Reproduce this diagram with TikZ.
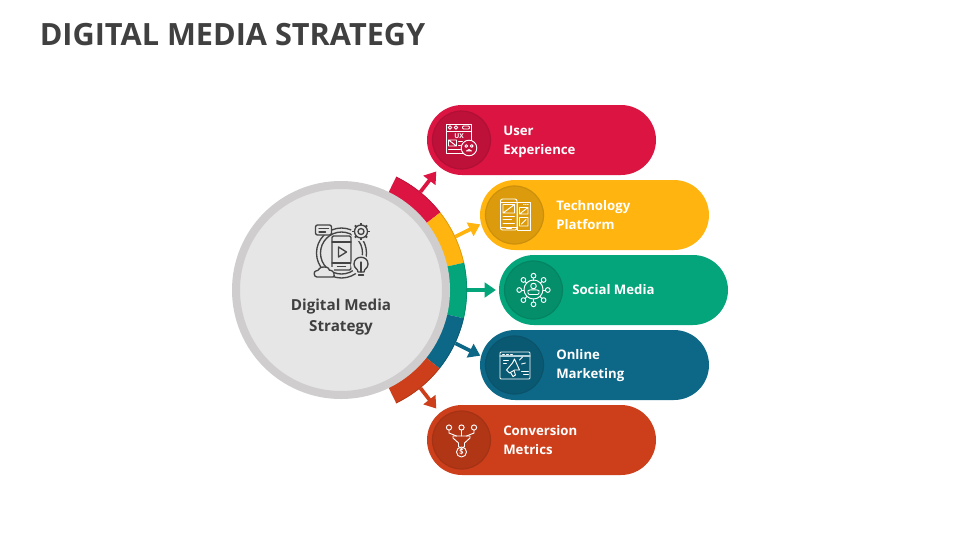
\documentclass[tikz,border=0pt]{standalone}
\usepackage{fontspec}
\setmainfont{Open Sans}
\usetikzlibrary{arrows.meta,shapes.misc}
\definecolor{cTitle}{HTML}{404040}
\definecolor{cRed}{HTML}{DC1442}
\definecolor{cYel}{HTML}{FFB40F}
\definecolor{cGrn}{HTML}{05A57B}
\definecolor{cBlu}{HTML}{0C6886}
\definecolor{cOrg}{HTML}{CD3F1A}
\definecolor{cHub}{HTML}{E6E6E6}
\definecolor{cRim}{HTML}{CFCDCD}
\definecolor{cIcon}{HTML}{444444}
\tikzset{
  pill/.style={rounded rectangle,minimum width=171.75pt,minimum height=52.5pt,inner sep=0pt,fill=#1},
  disc/.style={circle,minimum size=43.5pt,inner sep=0pt,fill=#1!86!black,draw=#1!80!black,line width=.9pt},
  lbl/.style={anchor=west,align=left,text=white,font=\fontsize{9.9}{14.2}\selectfont\bfseries,inner sep=0pt},
  link/.style={draw=#1,line width=2.8pt,-{Triangle[length=8.5pt,width=11pt]}},
  ico/.style={draw=white,line width=.7pt,line join=round,line cap=round},
  dico/.style={draw=cIcon,line width=1pt,line join=round,line cap=round}
}
\newcommand\ringpart[3]{%
  \fill[#3,shift={(341,290)}] (#1:75pt) arc[start angle=#1,end angle=#2,radius=75pt]
    -- (#2:94.5pt) arc[start angle=#2,end angle=#1,radius=94.5pt] -- cycle;
  \draw[#3!85!black,line width=.5pt,shift={(341,290)}] (#1:94.3pt) arc[start angle=#1,end angle=#2,radius=94.3pt];}
\begin{document}
\begin{tikzpicture}[x=.75pt,y=-.75pt]
\useasboundingbox (0,0) rectangle (960,540);
\fill[white] (0,0) rectangle (960,540);
\node[anchor=base west,inner sep=0pt,text=cTitle,font=\fontsize{23}{28}\selectfont\bfseries] (title) at (39.5,45.3) {DIGITAL MEDIA STRATEGY};

% pills
\node[pill=cRed] (pR) at (541.5,140) {};
\node[pill=cYel] (pY) at (594.5,215) {};
\node[pill=cGrn] (pG) at (613.5,290) {};
\node[pill=cBlu] (pB) at (594.5,365) {};
\node[pill=cOrg] (pO) at (541.5,440) {};
\node[disc=cRed] (iR) at (461.5,140) {};
\node[disc=cYel] (iY) at (514.5,215) {};
\node[disc=cGrn] (iG) at (533.5,290) {};
\node[disc=cBlu] (iB) at (514.5,365) {};
\node[disc=cOrg] (iO) at (461.5,440) {};
\node[lbl] (tR) at (503,141.5) {User\\Experience};
\node[lbl] (tY) at (556,215.5) {Technology\\Platform};
\node[lbl] (tG) at (572,289.5) {Social Media};
\node[lbl] (tB) at (556,366) {Online\\Marketing};
\node[lbl] (tO) at (503,440) {Conversion\\Metrics};

% connectors
\node[circle,minimum size=189pt,inner sep=0pt] (ring) at (341,290) {};
\draw[link=cRed,shorten >=8pt] (ring.51) -- (iR.231);
\draw[link=cYel,shorten >=4.5pt] (ring.25) -- (iY.193);
\draw[link=cGrn,shorten >=6pt] (ring.0) -- (iG.180);
\draw[link=cBlu,shorten >=4.5pt] (ring.-25) -- (iB.167);
\draw[link=cOrg,shorten >=8pt] (ring.-51) -- (iO.129);

% ring
\ringpart{64}{38}{cRed}
\ringpart{38}{12.5}{cYel}
\ringpart{12.5}{-13}{cGrn}
\ringpart{-13}{-38.5}{cBlu}
\ringpart{-38.5}{-64}{cOrg}
\node[circle,minimum size=157.5pt,inner sep=0pt,fill=cHub,draw=cRim,line width=6pt] (hub) at (341,290) {};
\node[align=center,text=cTitle,inner sep=0pt,font=\fontsize{11.4}{15.75}\selectfont\bfseries] (hubt) at (341,317) {Digital Media\\Strategy};

% hub icon
\begin{scope}[shift={(341.5,253)}]
  \draw[dico] (0,0) circle[radius=25];
  \draw[dico] (0,0) circle[radius=21];
  \draw[dico,fill=cHub,rounded corners=1] (-9.5,-17) rectangle (9.5,17);
  \draw[dico] (-9.5,-11) -- (9.5,-11) (-9.5,10) -- (9.5,10);
  \draw[dico] (-3,-6) -- (5,-1) -- (-3,4) -- cycle;
  \draw[dico] (-4,13.5) -- (4,13.5);
  % bubble
  \draw[dico,fill=cHub,rounded corners=1.5] (-26,-28) rectangle (-10,-18);
  \draw[dico] (-22.5,-24.5) -- (-13,-24.5) (-22.5,-21) -- (-16,-21);
  % gear
  \fill[cHub] (19.5,-21.5) circle[radius=10];
  \draw[dico] (19.5,-21.5) circle[radius=6.5];
  \draw[dico] (19.5,-21.5) circle[radius=3];
  \foreach \a in {0,45,...,315} \draw[dico,line width=1.4pt,line cap=butt,shift={(19.5,-21.5)}] (\a:4.9pt) -- (\a:6.4pt);
  % bulb
  \fill[cHub] (19.5,12) circle[radius=10];
  \draw[dico] (16.5,19) .. controls (16.5,15.5) and (12.5,15.5) .. (12.5,11) .. controls (12.5,2) and (26.5,2) .. (26.5,11) .. controls (26.5,15.5) and (22.5,15.5) .. (22.5,19) -- cycle;
  \draw[dico] (19.5,9) -- (19.5,19);
  \draw[dico] (17,22) -- (22,22);
  % cloud
  \fill[cHub] (-26,14) rectangle (-8,25);
  \draw[dico,rounded corners=2] (-22,24) .. controls (-28,24) and (-28,18) .. (-23,18) .. controls (-21,13) and (-13,14) .. (-13,18) .. controls (-8,17) and (-6,24) .. (-11,24) -- cycle;
\end{scope}

% UX icon
\begin{scope}[shift={(iR.center)}]
  \draw[ico] (-15,-16) rectangle (10,13);
  \draw[ico] (-15,-9) -- (10,-9);
  \draw[ico] (-11.5,-12.5) circle[radius=1.8] (-5.5,-12.5) circle[radius=1.8];
  \draw[ico,rounded corners=.8] (1,-14) rectangle (8,-11);
  \node[text=white,inner sep=0pt,font=\fontsize{5}{5}\selectfont\bfseries] (ux) at (-2.5,-4) {UX};
  \draw[ico] (-13,0) rectangle (-5,6) (-13,0) -- (-5,6);
  \draw[ico] (-3,1) -- (1,1) (-13,9) -- (-1,9) (-3,5) -- (-1,5);
  \draw[ico,fill=cRed!86!black] (7.5,8) circle[radius=7.8];
  \draw[ico] (4.8,6) circle[radius=1.4] (10.2,6) circle[radius=1.4];
  \draw[ico] (5,11) .. controls (6,9) and (9,9) .. (10,11) -- cycle;
\end{scope}

% device icon
\begin{scope}[shift={(iY.center)}]
  \draw[ico] (3,-13) rectangle (15.5,15);
  \draw[ico,fill=cYel!86!black,rounded corners=1.5] (-14,-16) rectangle (2.5,15);
  \draw[ico] (-14,-13) -- (2.5,-13) (-14,12) -- (2.5,12);
  \draw[ico] (-11.5,-10.5) rectangle (0,-2) (-11.5,-2) -- (0,-10.5);
  \draw[ico] (-11.5,1) -- (0,1) (-11.5,4.5) -- (-3,4.5) (-11.5,8) -- (0,8) (-8,13.6) -- (-3,13.6);
  \draw[ico] (5,-7.5) rectangle (13.5,-1) (5,-1) -- (13.5,-7.5);
  \draw[ico] (5,2.5) rectangle (13.5,11) (7,9) -- (11.5,4.5);
  \draw[ico] (9,-11) -- (9.6,-11) (11,-11) -- (11.6,-11) (13,-11) -- (13.6,-11);
\end{scope}

% network icon
\begin{scope}[shift={(iG.center)}]
  \draw[ico] (0,-.5) circle[radius=9.5];
  \foreach \a in {0,45,...,315} {
    \draw[ico] (\a:7.2pt) -- (\a:8.9pt);
    \draw[ico] (\a:10.7pt) circle[radius=2.4];
  }
  \draw[ico] (0,-4) circle[radius=2.8];
  \draw[ico,rounded corners=1] (-5.5,4.5) -- (-5.5,2) .. controls (-5.5,-.5) and (5.5,-.5) .. (5.5,2) -- (5.5,4.5) -- cycle;
\end{scope}

% campaign icon
\begin{scope}[shift={(iB.center)}]
  \draw[ico,rounded corners=.8] (-14.5,-13) rectangle (15.5,14);
  \draw[ico,line width=1.1pt,draw=white!70!cBlu] (-14.5,-9) -- (15.5,-9);
  \draw[ico] (-12,-11) -- (-10,-11) (-8,-11) -- (-6,-11) (-4,-11) -- (-2,-11);
  \draw[ico] (-11,-5) -- (-6,-5) (-11,-2) -- (-8,-2);
  \draw[ico] (7,6) -- (14,6) (9,9.5) -- (14,9.5);
  \draw[ico] (-8,5) -- (-2,-2) -- (0,-6) -- (5,5) -- (0,5) -- (-5,8) -- cycle;
  \draw[ico] (-4,7.5) -- (-1.5,11.5) -- (1,10) -- (-.5,5.5);
  \draw[ico] (5,-5) -- (8,-8) (7,-1) -- (11,-2);
\end{scope}

% funnel icon
\begin{scope}[shift={(iO.center)}]
  \draw[ico] (-12.5,-12.5) circle[radius=2.6] (0,-12.5) circle[radius=2.6] (12.5,-12.5) circle[radius=2.6];
  \draw[ico] (-12.5,-10) -- (-12.5,-7) -- (-5,-4) (0,-10) -- (0,-4) (12.5,-10) -- (12.5,-7) -- (5,-4);
  \draw[ico] (-8.5,-4) -- (8.5,-4) -- (8.5,-2) -- (3,3) -- (3,6.5) -- (0,8.5) -- (-3,6.5) -- (-3,3) -- (-8.5,-2) -- cycle;
  \draw[ico] (0,12) circle[radius=5];
  \node[text=white,inner sep=0pt,font=\fontsize{5.5}{5.5}\selectfont\bfseries] (usd) at (0,12) {\$};
\end{scope}
\end{tikzpicture}
\end{document}
